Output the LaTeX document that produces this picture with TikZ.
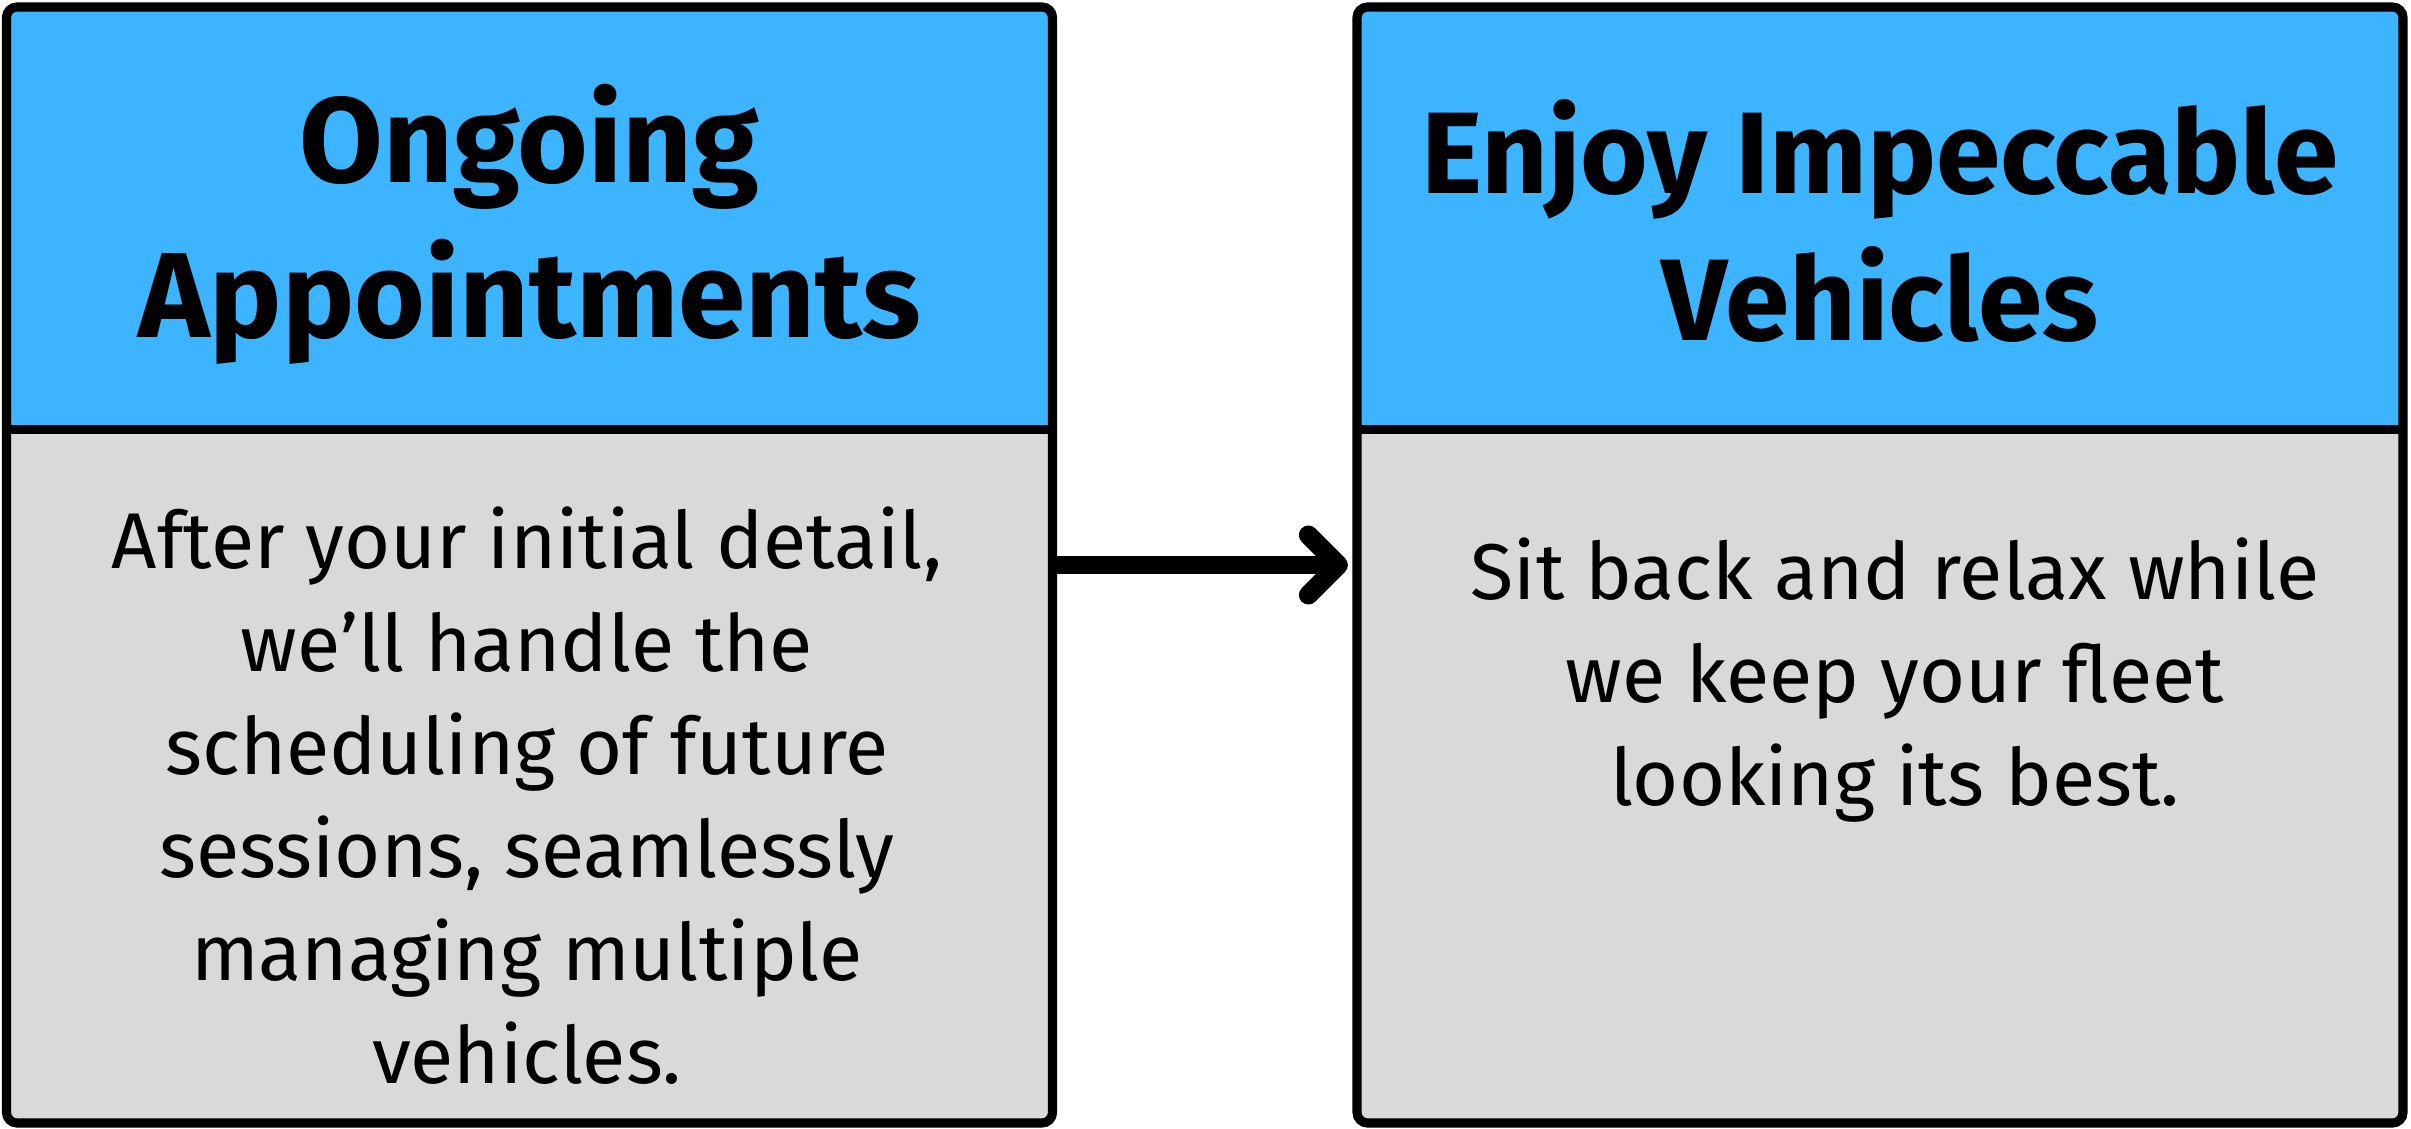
\documentclass[tikz,border=0pt]{standalone}
\usepackage{fontspec}
\setmainfont{Fira Sans}
\usetikzlibrary{arrows.meta}
\definecolor{hdrblue}{RGB}{60,180,255}
\definecolor{bodygrey}{RGB}{217,217,217}
\tikzset{
  card/.style={draw, line width=2.6pt, rounded corners=3pt, fill=bodygrey,
    minimum width=10.46cm, minimum height=11.16cm, inner sep=0pt,
    path picture={
      \fill[hdrblue, sharp corners] (path picture bounding box.north west) rectangle ([yshift=-4.225cm]path picture bounding box.north east);
      \draw[line width=2.6pt] ([yshift=-4.225cm]path picture bounding box.north west) -- ([yshift=-4.225cm]path picture bounding box.north east);
    }},
  cardtitle/.style={anchor=base, align=center, inner sep=0pt, font=\fontsize{34.5}{44}\selectfont\bfseries},
  cardtext/.style={anchor=base, align=center, inner sep=0pt, font=\fontsize{22.5}{29.3}\selectfont},
  flow/.style={line width=5.4pt, shorten >=1.3pt, -{Straight Barb[length=3mm, width=6mm, round]}}
}
\begin{document}
\begin{tikzpicture}
  \useasboundingbox (0,0) rectangle (24.11,-11.29);
  % Caselle
  \node[card] (lbox) at (5.295,-5.65) {};
  \node[card] (rbox) at (18.80,-5.65) {};
  % Titoli
  \node[cardtitle] (ltitle) at (5.295,-3.37) {Ongoing\\Appointments};
  \node[cardtitle, font=\fontsize{33}{41.8}\selectfont\bfseries] (rtitle) at (18.80,-3.40) {Enjoy Impeccable\\Vehicles};
  % Testi
  \node[cardtext] (ltext) at (5.27,-10.83) {After your initial detail,\\we’ll handle the\\scheduling of future\\sessions, seamlessly\\managing multiple\\vehicles.};
  \node[cardtext] (rtext) at (18.95,-8.05) {Sit back and relax while\\we keep your fleet\\looking its best.};
  % Freccia
  \draw[flow] (lbox) -- (rbox);
\end{tikzpicture}
\end{document}
